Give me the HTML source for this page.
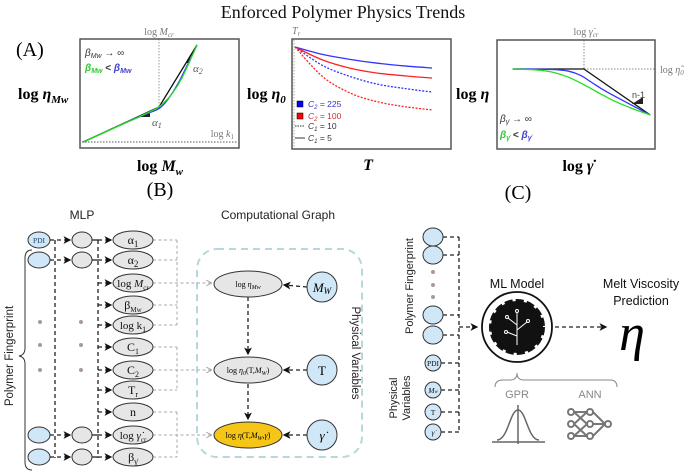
<!DOCTYPE html>
<html><head><meta charset="utf-8"><style>
html,body{margin:0;padding:0;background:#fff;}
svg{display:block;}
.serif{font-family:"Liberation Serif",serif;}
.sans{font-family:"Liberation Sans","DejaVu Sans",sans-serif;}
</style></head><body>
<svg id="fig" width="685" height="471" viewBox="0 0 685 471" xmlns="http://www.w3.org/2000/svg">
<defs>
<marker id="ah" markerWidth="6" markerHeight="6" refX="5" refY="3" orient="auto"><path d="M0,0 L6,3 L0,6 L1.5,3 Z" fill="#111"/></marker>
<marker id="ahg" markerWidth="6" markerHeight="6" refX="5" refY="3" orient="auto"><path d="M0,0 L6,3 L0,6" fill="none" stroke="#aaa"/></marker>
</defs>
<text x="343" y="18" text-anchor="middle" font-size="18" class="serif" fill="#111">Enforced Polymer Physics Trends</text>
<text x="16" y="56" font-size="20" class="serif">(A)</text>
<text x="160" y="196" text-anchor="middle" font-size="20" class="serif">(B)</text>
<text x="518" y="199" text-anchor="middle" font-size="20" class="serif">(C)</text>

<!-- Panel 1 -->
<g>
<line x1="159" y1="39" x2="159" y2="107" stroke="#999" stroke-dasharray="1.5,1.5"/>
<line x1="82" y1="142" x2="238" y2="142" stroke="#555" stroke-dasharray="1.5,1.5"/>
<rect x="80" y="39" width="159" height="109" fill="none" stroke="#555" stroke-width="1.5"/>
<text x="159" y="35" text-anchor="middle" font-size="10" class="serif" fill="#777">log <tspan font-style="italic">M<tspan font-size="7" dy="2">cr</tspan></tspan></text>
<text x="234" y="137" text-anchor="end" font-size="10" class="serif" fill="#777">log <tspan font-style="italic">k</tspan><tspan font-size="7" dy="2">1</tspan></text>
<polygon points="140,117 150,117 150,111" fill="#222"/>
<polygon points="186,63 190,63 190,55" fill="#222"/>
<text x="152" y="126" font-size="11" class="serif" font-style="italic" fill="#555">α<tspan font-size="8" dy="2">1</tspan></text>
<text x="193" y="72" font-size="11" class="serif" font-style="italic" fill="#555">α<tspan font-size="8" dy="2">2</tspan></text>
<text x="85" y="56" font-size="10" class="sans" font-style="italic" fill="#333">β<tspan font-size="7" dy="2">Mw</tspan><tspan dy="-2" font-style="normal"> → ∞</tspan></text>
<text x="85" y="71" font-size="10" class="sans" font-style="italic" font-weight="bold"><tspan fill="#3c3">β<tspan font-size="7" dy="2">Mw</tspan></tspan><tspan dy="-2" fill="#333" font-style="normal"> &lt; </tspan><tspan fill="#44c">β<tspan font-size="7" dy="2">Mw</tspan></tspan></text>
<g id="p1"></g>
<text x="18" y="99" font-size="16" class="serif" font-weight="bold">log <tspan font-style="italic">η<tspan font-size="11" dy="4">Mw</tspan></tspan></text>
<text x="160" y="171" text-anchor="middle" font-size="16" class="serif" font-weight="bold">log <tspan font-style="italic">M<tspan font-size="11" dy="4">w</tspan></tspan></text>
</g>

<!-- Panel 2 -->
<g>
<line x1="294" y1="40" x2="294" y2="148" stroke="#aaa" stroke-dasharray="1.5,1.5"/>
<rect x="292" y="39" width="159" height="110" fill="none" stroke="#555" stroke-width="1.5"/>
<text x="292" y="34" font-size="10" class="serif" font-style="italic" fill="#777">T<tspan font-size="7" dy="2">r</tspan></text>
<g id="p2"></g>
<rect x="297" y="101" width="6" height="6" fill="#00f" stroke="#000" stroke-width="0.5"/>
<text x="308" y="107" font-size="8.5" class="sans" font-style="italic" fill="#33c">C<tspan font-size="6" dy="2">2</tspan><tspan dy="-2" font-style="normal"> = 225</tspan></text>
<rect x="297" y="113" width="6" height="6" fill="#f00" stroke="#000" stroke-width="0.5"/>
<text x="308" y="119" font-size="8.5" class="sans" font-style="italic" fill="#c33">C<tspan font-size="6" dy="2">2</tspan><tspan dy="-2" font-style="normal"> = 100</tspan></text>
<line x1="295" y1="126" x2="305" y2="126" stroke="#333" stroke-dasharray="1.5,1"/>
<text x="308" y="129" font-size="8.5" class="sans" font-style="italic" fill="#333">C<tspan font-size="6" dy="2">1</tspan><tspan dy="-2" font-style="normal"> = 10</tspan></text>
<line x1="295" y1="138" x2="305" y2="138" stroke="#333"/>
<text x="308" y="141" font-size="8.5" class="sans" font-style="italic" fill="#333">C<tspan font-size="6" dy="2">1</tspan><tspan dy="-2" font-style="normal"> = 5</tspan></text>
<text x="247" y="99" font-size="16" class="serif" font-weight="bold">log <tspan font-style="italic">η<tspan font-size="11" dy="4">0</tspan></tspan></text>
<text x="368" y="170" text-anchor="middle" font-size="16" class="serif" font-weight="bold" font-style="italic">T</text>
</g>

<!-- Panel 3 -->
<g>
<line x1="584" y1="40" x2="584" y2="69" stroke="#888" stroke-dasharray="1.5,1.5"/>
<line x1="584" y1="69" x2="655" y2="69" stroke="#888" stroke-dasharray="1.5,1.5"/>
<rect x="497" y="40" width="158" height="109" fill="none" stroke="#555" stroke-width="1.5"/>
<text x="586" y="35" text-anchor="middle" font-size="10" class="serif" fill="#777">log <tspan font-style="italic">γ̇<tspan font-size="7" dy="2">cr</tspan></tspan></text>
<text x="660" y="73" font-size="10" class="serif" fill="#777">log <tspan font-style="italic">η̂<tspan font-size="7" dy="2">0</tspan></tspan></text>
<polygon points="632,104 643,104 643,97" fill="#222"/>
<text x="632" y="98" font-size="9" class="sans" fill="#444">n-1</text>
<g id="p3"></g>
<text x="500" y="122" font-size="10" class="sans" font-style="italic" fill="#333">β<tspan font-size="7" dy="2">γ̇</tspan><tspan dy="-2" font-style="normal"> → ∞</tspan></text>
<text x="500" y="138" font-size="10" class="sans" font-style="italic" font-weight="bold"><tspan fill="#3c3">β<tspan font-size="7" dy="2">γ̇</tspan></tspan><tspan dy="-2" fill="#333" font-style="normal"> &lt; </tspan><tspan fill="#44c">β<tspan font-size="7" dy="2">γ̇</tspan></tspan></text>
<text x="456" y="99" font-size="16" class="serif" font-weight="bold">log <tspan font-style="italic">η</tspan></text>
<text x="578" y="171" text-anchor="middle" font-size="16" class="serif" font-weight="bold">log <tspan font-style="italic">γ̇</tspan></text>
</g>

<!-- B: MLP + computational graph -->
<g class="sans">
<text x="82" y="219" text-anchor="middle" font-size="12" fill="#222">MLP</text>
<text x="278" y="219" text-anchor="middle" font-size="12" fill="#222">Computational Graph</text>
<rect x="197" y="249" width="165" height="208" rx="20" fill="none" stroke="#b5d8dc" stroke-width="2" stroke-dasharray="7,5"/>
<g stroke="#222" stroke-width="1.3" stroke-dasharray="4,3" fill="none">
<line x1="55" y1="240" x2="55" y2="458"/><line x1="98" y1="240" x2="98" y2="458"/>
</g>
<!-- row arrows -->
<g stroke="#222" stroke-width="1.3" stroke-dasharray="4,3" fill="none">
<line x1="98" y1="240" x2="111" y2="240" marker-end="url(#ah)"/>
<line x1="98" y1="260" x2="111" y2="260" marker-end="url(#ah)"/>
<line x1="98" y1="283" x2="111" y2="283" marker-end="url(#ah)"/>
<line x1="98" y1="305" x2="111" y2="305" marker-end="url(#ah)"/>
<line x1="98" y1="325" x2="111" y2="325" marker-end="url(#ah)"/>
<line x1="98" y1="347" x2="111" y2="347" marker-end="url(#ah)"/>
<line x1="98" y1="370" x2="111" y2="370" marker-end="url(#ah)"/>
<line x1="98" y1="390" x2="111" y2="390" marker-end="url(#ah)"/>
<line x1="98" y1="412" x2="111" y2="412" marker-end="url(#ah)"/>
<line x1="98" y1="435" x2="111" y2="435" marker-end="url(#ah)"/>
<line x1="98" y1="457" x2="111" y2="457" marker-end="url(#ah)"/>
<line x1="50" y1="240" x2="70" y2="240" marker-end="url(#ah)"/>
<line x1="50" y1="260" x2="70" y2="260" marker-end="url(#ah)"/>
<line x1="50" y1="435" x2="70" y2="435" marker-end="url(#ah)"/>
<line x1="50" y1="457" x2="70" y2="457" marker-end="url(#ah)"/>
</g>
<g stroke="#222" stroke-width="1.3">
<line x1="92" y1="240" x2="98" y2="240"/><line x1="92" y1="260" x2="98" y2="260"/><line x1="92" y1="435" x2="98" y2="435"/><line x1="92" y1="457" x2="98" y2="457"/>
</g>
<g stroke="#aaa" stroke-width="1" stroke-dasharray="3,2.5" fill="none">
<line x1="153" y1="240" x2="177" y2="240"/><line x1="153" y1="260" x2="177" y2="260"/><line x1="153" y1="305" x2="177" y2="305"/><line x1="153" y1="325" x2="177" y2="325"/>
<line x1="153" y1="347" x2="177" y2="347"/><line x1="153" y1="390" x2="177" y2="390"/><line x1="153" y1="412" x2="177" y2="412"/><line x1="153" y1="457" x2="177" y2="457"/>
<line x1="177" y1="240" x2="177" y2="325"/><line x1="177" y1="347" x2="177" y2="390"/><line x1="177" y1="412" x2="177" y2="457"/>
<line x1="153" y1="283" x2="211" y2="283" marker-end="url(#ahg)"/>
<line x1="153" y1="370" x2="211" y2="370" marker-end="url(#ahg)"/>
<line x1="153" y1="435" x2="211" y2="435" marker-end="url(#ahg)"/>
</g>
<!-- input & hidden nodes -->
<g stroke="#333">
<ellipse cx="39" cy="240" rx="11" ry="8" fill="#cfe7f7"/>
<ellipse cx="39" cy="260" rx="11" ry="8" fill="#cfe7f7"/>
<ellipse cx="39" cy="435" rx="11" ry="8" fill="#cfe7f7"/>
<ellipse cx="39" cy="457" rx="11" ry="8" fill="#cfe7f7"/>
<ellipse cx="82" cy="240" rx="10" ry="8" fill="#e6e6e6"/>
<ellipse cx="82" cy="260" rx="10" ry="8" fill="#e6e6e6"/>
<ellipse cx="82" cy="435" rx="10" ry="8" fill="#e6e6e6"/>
<ellipse cx="82" cy="457" rx="10" ry="8" fill="#e6e6e6"/>
</g>
<text x="39" y="243" text-anchor="middle" font-size="7.5" class="serif" fill="#246">PDI</text>
<!-- output nodes -->
<g stroke="#333" fill="#e6e6e6">
<ellipse cx="133" cy="240" rx="20" ry="9"/>
<ellipse cx="133" cy="260" rx="20" ry="9"/>
<ellipse cx="133" cy="283" rx="20" ry="9"/>
<ellipse cx="133" cy="305" rx="20" ry="9"/>
<ellipse cx="133" cy="325" rx="20" ry="9"/>
<ellipse cx="133" cy="347" rx="20" ry="9"/>
<ellipse cx="133" cy="370" rx="20" ry="9"/>
<ellipse cx="133" cy="390" rx="20" ry="9"/>
<ellipse cx="133" cy="412" rx="20" ry="9"/>
<ellipse cx="133" cy="435" rx="20" ry="9"/>
<ellipse cx="133" cy="457" rx="20" ry="9"/>
</g>
<g class="serif" font-size="12" text-anchor="middle" fill="#111">
<text x="133" y="244">α<tspan font-size="9" dy="3">1</tspan></text>
<text x="133" y="264">α<tspan font-size="9" dy="3">2</tspan></text>
<text x="133" y="287" font-size="11">log <tspan font-style="italic">M</tspan><tspan font-size="7" dy="3">cr</tspan></text>
<text x="133" y="309">β<tspan font-size="7" dy="3">Mw</tspan></text>
<text x="133" y="329" font-size="11">log k<tspan font-size="8" dy="3">1</tspan></text>
<text x="133" y="351">C<tspan font-size="8" dy="3">1</tspan></text>
<text x="133" y="374">C<tspan font-size="8" dy="3">2</tspan></text>
<text x="133" y="394">T<tspan font-size="8" dy="3">r</tspan></text>
<text x="133" y="416">n</text>
<text x="133" y="439" font-size="11">log <tspan font-style="italic">γ̇</tspan><tspan font-size="7" dy="3">cr</tspan></text>
<text x="133" y="461">β<tspan font-size="8" dy="3">γ̇</tspan></text>
</g>
<circle cx="40" cy="322" r="2" fill="#a99"/><circle cx="40" cy="345" r="2" fill="#a99"/><circle cx="40" cy="370" r="2" fill="#a99"/>
<circle cx="81" cy="322" r="2" fill="#a99"/><circle cx="81" cy="345" r="2" fill="#a99"/><circle cx="81" cy="370" r="2" fill="#a99"/>
<path d="M32,250 Q25,250 25,258 L25,348 Q25,355 19,356 Q25,357 25,364 L25,462 Q25,470 32,470" fill="none" stroke="#333"/>
<text transform="translate(13,356) rotate(-90)" text-anchor="middle" font-size="11.5" fill="#222">Polymer Fingerprint</text>
<text transform="translate(352,353) rotate(90)" text-anchor="middle" font-size="11.5" fill="#222">Physical Variables</text>
<g stroke="#222" stroke-width="1.3" stroke-dasharray="4,3" fill="none">
<line x1="248" y1="297" x2="248" y2="354" marker-end="url(#ah)"/>
<line x1="248" y1="384" x2="248" y2="419" marker-end="url(#ah)"/>
<line x1="307" y1="287" x2="284" y2="285" marker-end="url(#ah)"/>
<line x1="307" y1="370" x2="284" y2="370" marker-end="url(#ah)"/>
<line x1="307" y1="435" x2="284" y2="435" marker-end="url(#ah)"/>
</g>
<ellipse cx="248" cy="284" rx="34" ry="13" fill="#e6e6e6" stroke="#333"/>
<text x="248" y="287" text-anchor="middle" font-size="8" class="serif">log <tspan font-style="italic">η<tspan font-size="6" dy="2">Mw</tspan></tspan></text>
<ellipse cx="248" cy="370" rx="34" ry="13" fill="#e6e6e6" stroke="#333"/>
<text x="248" y="373" text-anchor="middle" font-size="8" class="serif">log <tspan font-style="italic">η<tspan font-size="6" dy="2">0</tspan></tspan><tspan dy="-2">(T,</tspan><tspan font-style="italic">M<tspan font-size="6" dy="2">W</tspan></tspan><tspan dy="-2">)</tspan></text>
<ellipse cx="248" cy="435" rx="34" ry="13" fill="#f5c518" stroke="#333"/>
<text x="248" y="438" text-anchor="middle" font-size="8" class="serif">log <tspan font-style="italic">η</tspan>(T,<tspan font-style="italic">M<tspan font-size="6" dy="2">W</tspan></tspan><tspan dy="-2">,</tspan><tspan font-style="italic">γ̇</tspan>)</text>
<circle cx="322" cy="287" r="15" fill="#cfe7f7" stroke="#333"/>
<text x="322" y="292" text-anchor="middle" font-size="13" class="serif" font-style="italic">M<tspan font-size="9" dy="2">W</tspan></text>
<circle cx="322" cy="370" r="15" fill="#cfe7f7" stroke="#333"/>
<text x="322" y="375" text-anchor="middle" font-size="13" class="serif">T</text>
<circle cx="322" cy="435" r="15" fill="#cfe7f7" stroke="#333"/>
<text x="322" y="440" text-anchor="middle" font-size="13" class="serif" font-style="italic">γ̇</text>
</g>

<!-- C: ML model -->
<g class="sans">
<g stroke="#222" stroke-width="1.3" stroke-dasharray="4,3" fill="none">
<line x1="459" y1="237" x2="459" y2="432"/>
<line x1="459" y1="327" x2="477" y2="327" marker-end="url(#ah)"/>
<line x1="555" y1="327" x2="606" y2="327" marker-end="url(#ah)"/>
<line x1="443" y1="237" x2="459" y2="237"/><line x1="443" y1="255" x2="459" y2="255"/><line x1="443" y1="315" x2="459" y2="315"/><line x1="443" y1="335" x2="459" y2="335"/>
<line x1="441" y1="363" x2="459" y2="363"/><line x1="441" y1="390" x2="459" y2="390"/><line x1="441" y1="412" x2="459" y2="412"/><line x1="441" y1="432" x2="459" y2="432"/>
</g>
<g stroke="#333" fill="#cfe7f7">
<ellipse cx="433" cy="237" rx="10" ry="9"/>
<ellipse cx="433" cy="255" rx="10" ry="9"/>
<ellipse cx="433" cy="315" rx="10" ry="9"/>
<ellipse cx="433" cy="335" rx="10" ry="9"/>
<ellipse cx="433" cy="363" rx="8" ry="8"/>
<ellipse cx="433" cy="390" rx="8" ry="8"/>
<ellipse cx="433" cy="412" rx="8" ry="8"/>
<ellipse cx="433" cy="432" rx="8" ry="8"/>
</g>
<g class="serif" font-size="7.5" text-anchor="middle" fill="#111">
<text x="433" y="366">PDI</text><text x="433" y="393" font-style="italic">M<tspan font-size="5">w</tspan></text><text x="433" y="415">T</text><text x="433" y="435" font-style="italic">γ̇</text>
</g>
<circle cx="433" cy="272" r="2" fill="#a99"/><circle cx="433" cy="285" r="2" fill="#a99"/><circle cx="433" cy="297" r="2" fill="#a99"/>
<text transform="translate(413,286) rotate(-90)" text-anchor="middle" font-size="11" fill="#222">Polymer Fingerprint</text>
<text transform="translate(397,398) rotate(-90)" text-anchor="middle" font-size="11" fill="#222">Physical</text>
<text transform="translate(410,398) rotate(-90)" text-anchor="middle" font-size="11" fill="#222">Variables</text>
<text x="517" y="288" text-anchor="middle" font-size="12.5" fill="#111">ML Model</text>
<circle cx="517" cy="327" r="35" fill="#fff" stroke="#111" stroke-width="1.8"/>
<circle cx="517" cy="327" r="26" fill="#111" stroke="#111" stroke-width="4" stroke-dasharray="8,3" stroke-linejoin="round"/>
<g stroke="#fff" stroke-width="1" fill="none"><line x1="517" y1="345" x2="517" y2="312"/><line x1="517" y1="330" x2="527" y2="322"/><line x1="517" y1="325" x2="508" y2="318"/><line x1="517" y1="336" x2="507" y2="332"/><circle cx="517" cy="311" r="1.5"/><circle cx="528" cy="321" r="1.5"/><circle cx="507" cy="317" r="1.5"/><circle cx="506" cy="332" r="1.5"/></g>
<text x="641" y="288" text-anchor="middle" font-size="12.5" fill="#111">Melt Viscosity</text>
<text x="641" y="305" text-anchor="middle" font-size="12.5" fill="#111">Prediction</text>
<text x="632" y="350" text-anchor="middle" font-size="52" class="serif" font-style="italic" fill="#000">η</text>
<path d="M495,387 Q495,380 503,380 L510,380 Q517,380 517,373 Q517,380 524,380 L610,380 Q617,380 617,387" fill="none" stroke="#888"/>
<text x="517" y="398" text-anchor="middle" font-size="11" fill="#888">GPR</text>
<text x="590" y="398" text-anchor="middle" font-size="11" fill="#888">ANN</text>
<g stroke="#666" stroke-width="1.5" fill="none">
<line x1="492" y1="442" x2="545" y2="442"/><line x1="518" y1="444" x2="518" y2="405"/>
<path d="M497,440 C508,440 510,410 518,410 C526,410 528,440 539,440"/>
</g>
<g stroke="#777" stroke-width="2" fill="none">
<circle cx="571" cy="412" r="3"/><circle cx="571" cy="424" r="3"/><circle cx="571" cy="436" r="3"/>
<circle cx="590" cy="412" r="3"/><circle cx="590" cy="424" r="3"/><circle cx="590" cy="436" r="3"/>
<circle cx="608" cy="424" r="3"/>
<path d="M574,412 L587,412 M574,412 L587,424 M574,424 L587,412 M574,424 L587,436 M574,436 L587,424 M574,436 L587,436 M593,412 L605,424 M593,424 L605,424 M593,436 L605,424"/>
</g>
</g>

<script>
// Panel 1 data (log Mw vs log eta, 0-100 units)
const p1X = [2, 49.7, 73.6];
const p1Black = [5.5, 37.6, 94.5];
const p1BlueX = [2, 30, 44, 50, 55, 62, 73.6];
const p1Blue = [5.5, 24, 32.5, 36.5, 44, 60, 94.5];
const p1GreenX = [2, 30, 40, 47, 52, 58, 64, 73.6];
const p1Green = [5.5, 24, 30.5, 35.5, 40.5, 50, 64, 94.5];
// Panel 2 data (T vs log eta0)
const p2T = [0, 20, 40, 60, 80, 100];
const p2BlueSolid = [92.7, 86, 81.5, 78, 75.5, 73.6];
const p2RedSolid = [92.7, 81, 73.5, 69, 66.5, 64.5];
const p2BlueDash = [92.7, 76, 66, 59, 55, 51.8];
const p2RedDash = [92.7, 66, 51, 43, 38.5, 35.5];
// Panel 3 data (log shear rate vs log eta)
const p3X = [10, 55, 97];
const p3Black = [73.4, 73.4, 31.2];
const p3BlueX = [10, 35, 45, 53, 60, 70, 97];
const p3Blue = [73.4, 73, 71.5, 67.5, 61, 52, 31.2];
const p3GreenX = [10, 25, 35, 45, 55, 65, 75, 85, 97];
const p3Green = [73.4, 72.5, 70.5, 66, 59, 51, 43.5, 37.5, 31.2];

const NS = 'http://www.w3.org/2000/svg';
function smooth(pts){
  let d = 'M' + pts[0][0] + ',' + pts[0][1];
  for (let i = 0; i < pts.length - 1; i++) {
    const p0 = pts[i-1] || pts[i], p1 = pts[i], p2 = pts[i+1], p3 = pts[i+2] || p2;
    const c1x = p1[0] + (p2[0]-p0[0])/6, c1y = p1[1] + (p2[1]-p0[1])/6;
    const c2x = p2[0] - (p3[0]-p1[0])/6, c2y = p2[1] - (p3[1]-p1[1])/6;
    d += ' C' + c1x + ',' + c1y + ' ' + c2x + ',' + c2y + ' ' + p2[0] + ',' + p2[1];
  }
  return d;
}
function addPath(g, xs, ys, sx, sy, color, dash, curved, name){
  const pts = xs.map((x,i) => [sx(x), sy(ys[i])]);
  const p = document.createElementNS(NS, 'path');
  p.setAttribute('d', curved ? smooth(pts) : 'M' + pts.map(q => q.join(',')).join(' L'));
  p.setAttribute('fill', 'none');
  p.setAttribute('stroke', color);
  p.setAttribute('stroke-width', '1.3');
  if (dash) p.setAttribute('stroke-dasharray', dash);
  
  
  g.appendChild(p);
}
const s1x = x => 80 + x*1.59, s1y = y => 148 - y*1.09;
const g1 = document.getElementById('p1');
addPath(g1, p1BlueX, p1Blue, s1x, s1y, '#33f', null, true, 'series-blue-mw');
addPath(g1, p1X, p1Black, s1x, s1y, '#111', null, false, 'series-black-mw');
addPath(g1, p1GreenX, p1Green, s1x, s1y, '#2d2', null, true, 'series-green-mw');
const s2x = x => 295 + x*1.37, s2y = y => 149 - y*1.1;
const g2 = document.getElementById('p2');
addPath(g2, p2T, p2BlueSolid, s2x, s2y, '#33f', null, true, 'series-c2-225-c1-5');
addPath(g2, p2T, p2RedSolid, s2x, s2y, '#f22', null, true, 'series-c2-100-c1-5');
addPath(g2, p2T, p2BlueDash, s2x, s2y, '#33f', '2,1.5', true, 'series-c2-225-c1-10');
addPath(g2, p2T, p2RedDash, s2x, s2y, '#f22', '2,1.5', true, 'series-c2-100-c1-10');
const s3x = x => 497 + x*1.58, s3y = y => 149 - y*1.09;
const g3 = document.getElementById('p3');
addPath(g3, p3X, p3Black, s3x, s3y, '#111', null, false, 'series-black-shear');
addPath(g3, p3BlueX, p3Blue, s3x, s3y, '#33f', null, true, 'series-blue-shear');
addPath(g3, p3GreenX, p3Green, s3x, s3y, '#2d2', null, true, 'series-green-shear');
</script>
</svg>
</body></html>
